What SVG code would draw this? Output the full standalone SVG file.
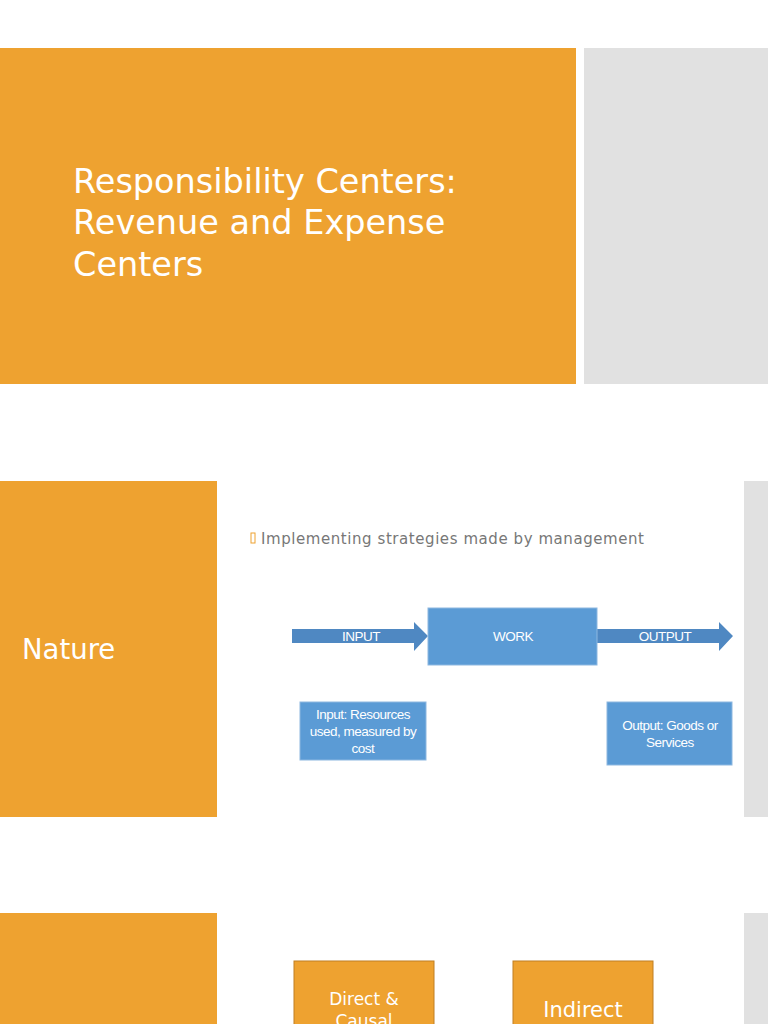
<svg xmlns="http://www.w3.org/2000/svg" width="768" height="1024" viewBox="0 0 768 1024">
<style>
.or{fill:#EEA230}.gr{fill:#E1E1E1}
.t{font-family:"DejaVu Sans",sans-serif;fill:#fff}
.bx{fill:#5B9BD5;stroke:#8DB7E0;stroke-width:1}
.ar{fill:#4F88C2}
.s{font-family:"Liberation Sans",sans-serif;font-size:13.5px;fill:#fff;text-anchor:middle;letter-spacing:-0.5px}
.ob{fill:#EEA230;stroke:#C07F22;stroke-width:1}
</style>
<rect width="768" height="1024" fill="#fff"/>
<g id="slide1">
<rect class="or" x="0" y="48" width="576" height="336"/>
<rect class="gr" x="584" y="48" width="184" height="336"/>
<text class="t" font-size="33.5" x="73" y="193">Responsibility Centers:</text>
<text class="t" font-size="33.5" x="73" y="234">Revenue and Expense</text>
<text class="t" font-size="33.5" x="73" y="276">Centers</text>
</g>
<g id="slide2">
<rect class="or" x="0" y="481" width="217" height="336"/>
<rect class="gr" x="744" y="481" width="24" height="336"/>
<text class="t" font-size="27.5" x="22" y="659">Nature</text>
<rect x="251" y="533" width="4" height="10" fill="none" stroke="#EEA230" stroke-width="1"/>
<text font-family="DejaVu Sans,sans-serif" font-size="15" fill="#777" x="261" y="544" textLength="383">Implementing strategies made by management</text>
</g>
<g id="connectors">
<polygon class="ar" points="292,629 414,629 414,622 428,636 414,651 414,643 292,643"/>
<polygon class="ar" points="597,629 719,629 719,622 733,636 719,651 719,643 597,643"/>
<text class="s" x="361" y="641">INPUT</text>
<text class="s" x="665" y="641">OUTPUT</text>
</g>
<g id="work"><rect class="bx" x="428" y="608" width="169" height="57"/><text class="s" x="513" y="641">WORK</text></g>
<g id="input-note"><rect class="bx" x="300" y="702" width="126" height="58"/>
<text class="s" x="363" y="719">Input: Resources</text><text class="s" x="363" y="736">used, measured by</text><text class="s" x="363" y="753">cost</text></g>
<g id="output-note"><rect class="bx" x="607" y="702" width="125" height="63"/>
<text class="s" x="670" y="730">Output: Goods or</text><text class="s" x="670" y="747">Services</text></g>
<g id="slide3">
<rect class="or" x="0" y="913" width="217" height="111"/>
<rect class="gr" x="744" y="913" width="24" height="111"/>
</g>
<g id="direct"><rect class="ob" x="294" y="961" width="140" height="70"/>
<text class="t" font-size="17" text-anchor="middle" x="364" y="1005">Direct &amp;</text>
<text class="t" font-size="17" text-anchor="middle" x="364" y="1027">Causal</text></g>
<g id="indirect"><rect class="ob" x="513" y="961" width="140" height="70"/>
<text class="t" font-size="21" text-anchor="middle" x="583" y="1017">Indirect</text></g>
</svg>
